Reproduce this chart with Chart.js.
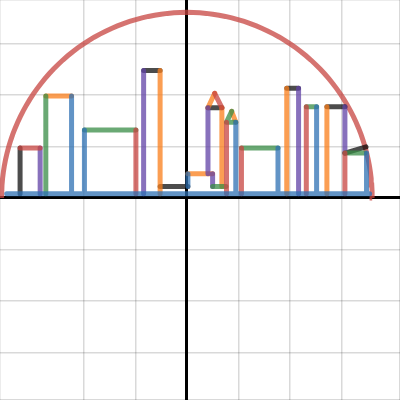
<!DOCTYPE html>
<html>
<head>
<meta charset="utf-8">
<script src="https://cdn.jsdelivr.net/npm/chart.js@4/dist/chart.umd.min.js"></script>
<style>
  html, body { margin: 0; padding: 0; background: #fff; }
</style>
</head>
<body>
<canvas id="chart" width="400" height="400"></canvas>
<script>
// view window in graph units
const xMin = -3.63, xMax = 4.14;
const yMin = -3.92, yMax = 3.84;
const circleRadius = 3.6;

// segments per colour: [x1, y1, x2, y2]
const redSegs = [
  [-3.24, 0.97, -2.85, 0.97],
  [-0.99, 0.08, -0.99, 1.32],
  [0.54, 2.03, 0.68, 1.75],
  [0.77, 0.08, 0.77, 1.47],
  [1.06, 0.08, 1.06, 0.97],
  [2.32, 0.08, 2.32, 1.77],
  [3.07, 0.08, 3.07, 0.87]
];
const blueSegs = [
  [-3.5, 0.08, 3.55, 0.08],
  [-2.24, 0.08, -2.24, 1.98],
  [-1.99, 0.08, -1.99, 1.32],
  [0.02, 0.22, 0.02, 0.47],
  [0.95, 0.08, 0.95, 1.47],
  [1.77, 0.08, 1.77, 0.97],
  [2.52, 0.08, 2.52, 1.77],
  [3.49, 0.08, 3.49, 0.87]
];
const greenSegs = [
  [-2.74, 0.08, -2.74, 1.98],
  [-1.99, 1.32, -0.99, 1.32],
  [0.5, 0.22, 0.76, 0.22],
  [0.77, 1.47, 0.95, 1.47],
  [0.77, 1.47, 0.87, 1.68],
  [1.06, 0.97, 1.77, 0.97],
  [2.32, 1.77, 2.52, 1.77],
  [3.07, 0.87, 3.46, 0.87]
];
const purpleSegs = [
  [-2.85, 0.08, -2.85, 0.97],
  [-0.84, 0.08, -0.84, 2.47],
  [0.5, 0.47, 0.5, 0.22],
  [0.41, 0.47, 0.41, 1.75],
  [2.17, 0.08, 2.17, 2.13],
  [3.07, 1.77, 3.07, 0.87]
];
const orangeSegs = [
  [-2.74, 1.98, -2.24, 1.98],
  [-0.52, 0.08, -0.52, 2.47],
  [0.02, 0.47, 0.5, 0.47],
  [0.41, 1.75, 0.54, 2.03],
  [0.68, 1.75, 0.68, 0.22],
  [0.87, 1.68, 0.95, 1.47],
  [1.94, 0.08, 1.94, 2.13],
  [2.72, 0.08, 2.72, 1.77]
];
const blackSegs = [
  [-3.24, 0.08, -3.24, 0.97],
  [-0.84, 2.47, -0.52, 2.47],
  [-0.52, 0.22, 0.02, 0.22],
  [0.41, 1.75, 0.68, 1.75],
  [1.94, 2.13, 2.17, 2.13],
  [2.72, 1.77, 3.07, 1.77],
  [3.07, 0.87, 3.48, 0.99]
];

const colours = {
  red: 'rgba(199,68,64,0.75)',
  blue: 'rgba(45,112,179,0.75)',
  green: 'rgba(56,140,70,0.75)',
  purple: 'rgba(96,66,166,0.75)',
  orange: 'rgba(250,126,25,0.75)',
  black: 'rgba(0,0,0,0.7)'
};

function toPoints(segs) {
  let pts = [];
  segs.forEach(s => {
    pts.push({x: s[0], y: s[1]}, {x: s[2], y: s[3]}, {x: s[2], y: null});
  });
  return pts;
}

function segDataset(segs, colour) {
  return {
    data: toPoints(segs),
    showLine: true,
    borderColor: colour,
    borderWidth: 5,
    borderCapStyle: 'round',
    borderJoinStyle: 'round',
    pointRadius: 0,
    spanGaps: false
  };
}

// upper half of the circle
let arc = [];
for (let a = 0; a <= 180; a += 2) {
  let r = a * Math.PI / 180;
  arc.push({x: circleRadius * Math.cos(r), y: circleRadius * Math.sin(r)});
}

const ctx = document.getElementById('chart').getContext('2d');
new Chart(ctx, {
  type: 'scatter',
  data: {
    datasets: [
      segDataset(blueSegs, colours.blue),
      segDataset(redSegs, colours.red),
      segDataset(greenSegs, colours.green),
      segDataset(purpleSegs, colours.purple),
      segDataset(orangeSegs, colours.orange),
      segDataset(blackSegs, colours.black),
      {
        data: arc, showLine: true, borderColor: colours.red,
        borderWidth: 5, pointRadius: 0, tension: 0
      }
    ]
  },
  options: {
    responsive: false,
    animation: false,
    layout: { padding: 0 },
    plugins: { legend: { display: false }, tooltip: { enabled: false } },
    scales: {
      x: {
        type: 'linear', min: xMin, max: xMax,
        ticks: { display: false, stepSize: 1 },
        border: { display: false },
        grid: {
          drawTicks: false,
          color: c => c.tick.value === 0 ? '#000' : 'rgba(0,0,0,0.15)',
          lineWidth: c => c.tick.value === 0 ? 3 : 1.5
        }
      },
      y: {
        type: 'linear', min: yMin, max: yMax,
        ticks: { display: false, stepSize: 1 },
        border: { display: false },
        grid: {
          drawTicks: false,
          color: c => c.tick.value === 0 ? '#000' : 'rgba(0,0,0,0.15)',
          lineWidth: c => c.tick.value === 0 ? 3 : 1.5
        }
      }
    }
  }
});
</script>
</body>
</html>
